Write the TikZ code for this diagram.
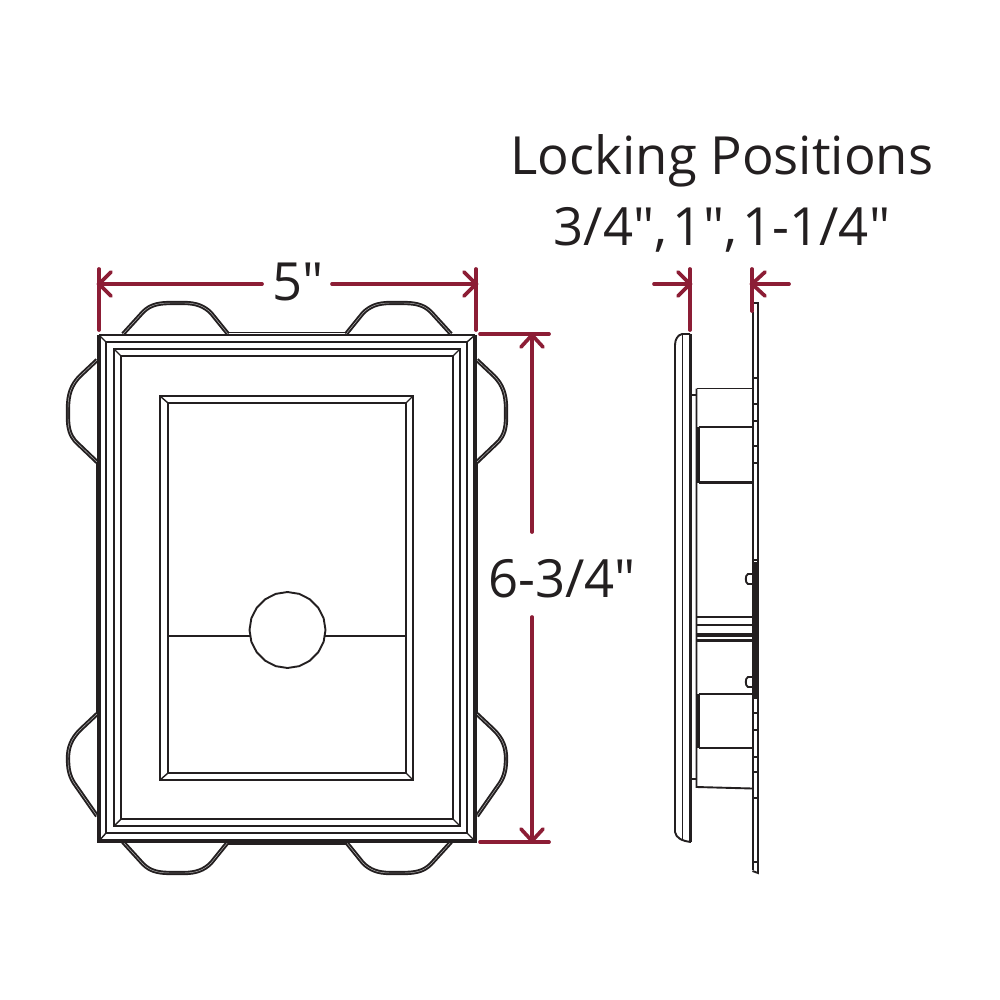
\documentclass[tikz,border=0pt]{standalone}
\usepackage{fontspec}
\newfontfamily\labelfont{Open Sans}
\definecolor{dimred}{HTML}{8C1D35}
\definecolor{ink}{HTML}{231F20}
\tikzset{
  thinline/.style={draw=ink,line width=0.7pt,line join=miter},
  medline/.style={draw=ink,line width=0.95pt,line join=miter},
  heavyline/.style={draw=ink,line width=1.45pt,line join=miter},
  tabline/.style={draw=ink,line width=0.95pt,double=white!70!ink,double distance=0.22pt,line join=round},
  dimline/.style={draw=dimred,line width=1.85pt,line cap=round},
  label/.style={text=ink,inner sep=0pt,anchor=base,font=\labelfont\fontsize{26.3}{30}\selectfont},
}
\begin{document}
\begin{tikzpicture}[x=0.5pt,y=-0.5pt]
\useasboundingbox (0,0) rectangle (1000,1000);
\fill[white] (0,0) rectangle (1000,1000);
% tabs
\foreach \m/\o in {1/0,-1/574}{
  \begin{scope}[xshift=\o*0.5pt,xscale=\m]
  \draw[tabline] (123,334) -- (143,312) .. controls (151,304) and (160,303) .. (172,303) -- (184,303) .. controls (196,303) and (204,306) .. (211,313) -- (228,334);
  \draw[tabline] (123,842) -- (143,864) .. controls (151,872) and (160,873) .. (172,873) -- (184,873) .. controls (196,873) and (204,870) .. (211,863) -- (228,842);
  \draw[tabline] (97,360) -- (80,376) .. controls (71,385) and (68,395) .. (68,408) -- (68,418) .. controls (68,428) and (70,435) .. (75,441) -- (97,462);
  \draw[tabline] (97,714) -- (80,730) .. controls (71,739) and (68,748) .. (68,758) .. controls (68,768) and (69,775) .. (74,783) -- (97,816);
  \draw[medline] (96.5,462) -- (96.5,714);
  \end{scope}
}
\draw[medline] (228,332.5) -- (347,332.5);
\draw[medline] (228,844) -- (347,844);
% front frame
\draw[medline,fill=white] (99,335) -- (475,335);
\draw[draw=ink,line width=1.7pt,line join=miter] (99,335) -- (99,841) -- (475,841) -- (475,335);
\draw[medline] (106,342) rectangle (467,833);
\draw[heavyline] (106,342) -- (467,342);
\draw[heavyline] (106,833) -- (467,833);
\draw[thinline] (114,349) rectangle (460,826);
\draw[medline] (121,356) rectangle (453,819);
\draw[heavyline] (160,396) rectangle (413,780);
\draw[medline] (168,403) rectangle (406,773);
\foreach \a/\b/\c/\d in {99/335/106/342,475/335/467/342,99/841/106/833,475/841/467/833,
  114/349/121/356,460/349/453/356,114/826/121/819,460/826/453/819,
  160/396/168/403,413/396/406/403,160/780/168/773,413/780/406/773}
  \draw[thinline] (\a,\b) -- (\c,\d);
% knock-out
\draw[medline] (168,636) -- (250,636);
\draw[medline] (325,636) -- (406,636);
\draw[medline,fill=white] plot[samples=21,domain=0:360] ({287.5+38*cos(\x)},{630+38*sin(\x)}) -- cycle;
% side view flange
\draw[medline] (690,334) -- (682,334) .. controls (678,335) and (675,339) .. (675,345) -- (675,832) .. controls (676,838) and (682,841) .. (691,842);
\draw[medline] (682.5,334) -- (682.5,840);
\draw[heavyline] (690.5,334) -- (690.5,842);
% body
\draw[medline] (690,395) -- (696,395);
\draw[medline] (690,779) -- (696,779);
\draw[medline] (696.5,388.5) -- (752,388.5);
\draw[medline] (696.5,388.5) -- (696.5,787) -- (752,788.5);
\draw[heavyline] (698.5,427) -- (752,427);
\draw[heavyline] (698.5,482.5) -- (752,482.5);
\draw[heavyline] (698.5,427) -- (698.5,482.5);
\draw[thinline] (696,617) -- (752,617);
\draw[heavyline] (696,625) -- (752,625);
\draw[draw=ink,line width=2pt] (696,634.5) -- (752,634.5);
\draw[heavyline] (696,640.5) -- (752,640.5);
\draw[heavyline] (698.5,694) -- (752,694);
\draw[heavyline] (698.5,748) -- (752,748);
\draw[heavyline] (698.5,694) -- (698.5,748);
% clips
\draw[medline] (752,574) -- (748,574) .. controls (745,575) and (745,583) .. (748,584) -- (752,584);
\draw[medline] (752,677) -- (748,677) .. controls (745,678) and (745,686) .. (748,687) -- (752,687);
% plate
\draw[heavyline] (753,312) -- (753,870);
\draw[medline] (752.5,303) -- (758,303) -- (758,873) -- (752.5,871);
\draw[medline] (752.5,303) -- (752.5,312);
\draw[draw=ink,line width=2.2pt] (755.5,562) -- (755.5,698);
\foreach \y in {378,404,421,446,463,560,698,713,730,757,772,798,862}
  \draw[thinline] (752,\y) -- (758,\y);
% dimensions
\coordinate (wl) at (99,284); \coordinate (wr) at (476,284);
\draw[dimline] (99,269) -- (99,330);
\draw[dimline] (476,269) -- (476,330);
\draw[dimline] (wl) -- (262,284);
\draw[dimline] (332,284) -- (wr);
\draw[dimline] (111,272) -- (wl) -- (111,296);
\draw[dimline] (464,272) -- (wr) -- (464,296);
\node[label] (five) at (298,300) {5"};
\draw[dimline] (480,334) -- (549,334);
\draw[dimline] (480,842) -- (549,842);
\draw[dimline] (532,335) -- (532,532);
\draw[dimline] (532,617) -- (532,841);
\draw[dimline] (521,347) -- (532,335) -- (543,347);
\draw[dimline] (521,829) -- (532,841) -- (543,829);
\node[label] (height) at (562,597) {6-3/4"};
\draw[dimline] (690,269) -- (690,330);
\draw[dimline] (654,284) -- (690,284);
\draw[dimline] (678,272) -- (690,284) -- (678,296);
\draw[dimline] (752,269) -- (752,311);
\draw[dimline] (752,284) -- (789,284);
\draw[dimline] (765,272) -- (752,284) -- (765,296);
\node[label] (lock1) at (722,175) {Locking Positions};
\node[label] (lock2) at (722,245) {\spaceskip=2.8pt\relax 3/4", 1", 1-1/4"};
\end{tikzpicture}
\end{document}
